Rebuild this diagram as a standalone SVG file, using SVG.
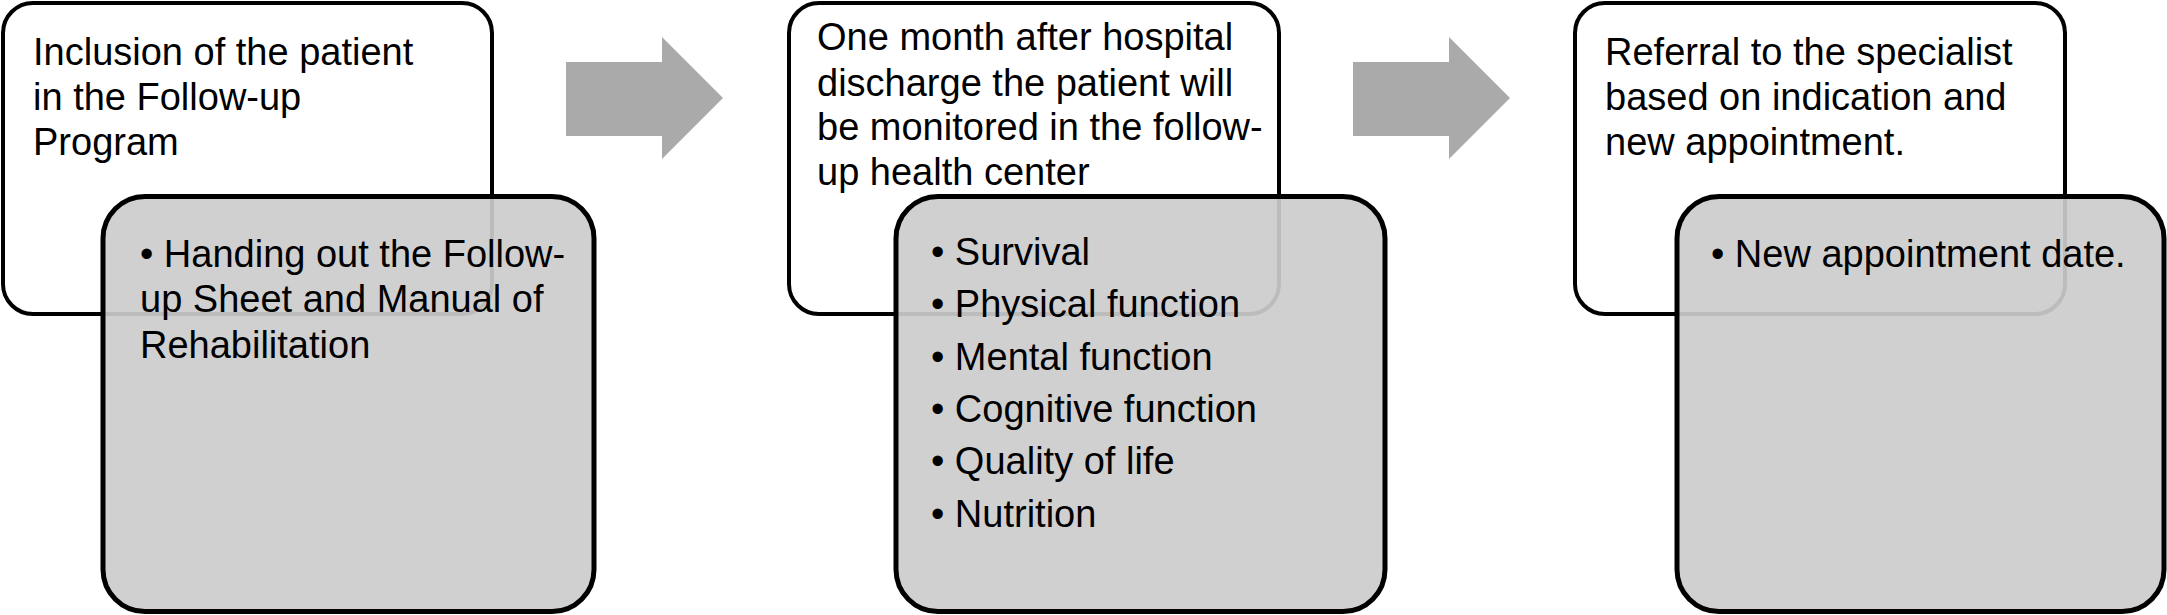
<svg xmlns="http://www.w3.org/2000/svg" width="2167" height="615" viewBox="0 0 2167 615">
<style>
.top{fill:#ffffff;stroke:#000000;stroke-width:4}
.sub{fill:#cccccc;fill-opacity:0.92;stroke:#000000;stroke-width:5}
.arrow{fill:#aaaaaa;stroke:none}
text{font-family:"Liberation Sans",Arial,Helvetica,sans-serif;font-size:38px;fill:#000000}
</style>
<defs>
<path id="arr" d="M0,25 H96 V0 L157,61 L96,122 V99 H0 Z"/>
</defs>
<g id="step1">
<rect class="top" x="3" y="3" width="489" height="311" rx="30" ry="30"/>
<text x="33" y="65">Inclusion of the patient</text>
<text x="33" y="110">in the Follow-up</text>
<text x="33" y="155">Program</text>
</g>
<g id="step1-detail">
<rect class="sub" x="103" y="196.5" width="491" height="415" rx="42" ry="42"/>
<text x="140" y="267">• Handing out the Follow-</text>
<text x="140" y="312">up Sheet and Manual of</text>
<text x="140" y="358">Rehabilitation</text>
</g>
<g id="step2">
<rect class="top" x="789" y="3" width="490" height="311" rx="30" ry="30"/>
<text x="817" y="50">One month after hospital</text>
<text x="817" y="96">discharge the patient will</text>
<text x="817" y="140">be monitored in the follow-</text>
<text x="817" y="185">up health center</text>
</g>
<g id="step2-detail">
<rect class="sub" x="896" y="196.5" width="489" height="415" rx="42" ry="42"/>
<text x="931" y="265">• Survival</text>
<text x="931" y="317">• Physical function</text>
<text x="931" y="370">• Mental function</text>
<text x="931" y="422">• Cognitive function</text>
<text x="931" y="474">• Quality of life</text>
<text x="931" y="527">• Nutrition</text>
</g>
<g id="step3">
<rect class="top" x="1575" y="3" width="490" height="311" rx="30" ry="30"/>
<text x="1605" y="65">Referral to the specialist</text>
<text x="1605" y="110">based on indication and</text>
<text x="1605" y="155">new appointment.</text>
</g>
<g id="step3-detail">
<rect class="sub" x="1677" y="196.5" width="487" height="415" rx="42" ry="42"/>
<text x="1711" y="267">• New appointment date.</text>
</g>
<g id="connectors">
<use href="#arr" class="arrow" x="566" y="37"/>
<use href="#arr" class="arrow" x="1353" y="37"/>
</g>
</svg>
